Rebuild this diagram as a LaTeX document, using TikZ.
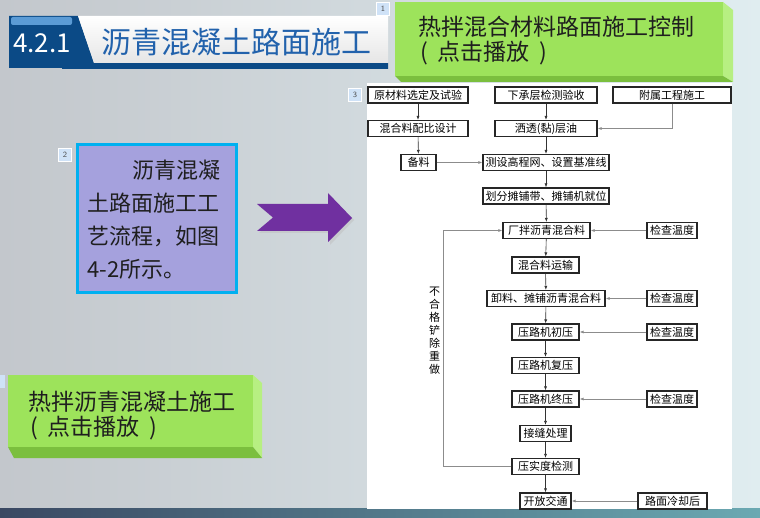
\documentclass[tikz,border=0pt]{standalone}
\usepackage{fontspec}
\newfontfamily\cjk{Noto Sans CJK SC}
\usetikzlibrary{arrows.meta}
\definecolor{bgl}{HTML}{C3C7CC}
\definecolor{bgr}{HTML}{E0EDF0}
\definecolor{hdblue}{HTML}{0B4A86}
\definecolor{hdlight}{HTML}{5B9BD5}
\definecolor{titleblue}{HTML}{2262AC}
\definecolor{gfront}{HTML}{9DE35B}
\definecolor{gbottom}{HTML}{7BBF3E}
\definecolor{gside}{HTML}{B7EF82}
\definecolor{pbox}{HTML}{A5A1DD}
\definecolor{cyanb}{HTML}{00B0F0}
\definecolor{parrow}{HTML}{7030A0}
\definecolor{tagblue}{HTML}{CFE2F7}
\definecolor{stripl}{HTML}{3A4862}
\definecolor{stripr}{HTML}{6BA9B2}
\begin{document}
\begin{tikzpicture}[x=1pt,y=-1pt,
  fb/.style={draw=black!85,line width=1.1pt,fill=white,inner sep=0pt,minimum height=16pt,font=\cjk\fontsize{11}{12}\selectfont},
  ar/.style={-{Latex[length=4pt,width=3pt]},line width=0.6pt,draw=black!80},
  gl/.style={-{Latex[length=4pt,width=3pt]},line width=0.9pt,draw=black!45},
  tag/.style={fill=tagblue,draw=white,line width=0.6pt,minimum size=13pt,inner sep=0pt,font=\sffamily\fontsize{8}{8}\selectfont,text=black!70},
  gtext/.style={font=\cjk\fontsize{23}{26}\selectfont,text=black!88,anchor=west,inner sep=0pt}]
\useasboundingbox (0,0) rectangle (760,518);
% background
\shade[left color=bgl,right color=bgr] (0,0) rectangle (760,518);
\shade[left color=stripl,right color=stripr] (0,508) rectangle (760,518);
% header
\fill[hdblue] (9,16) -- (78,16) -- (94,63) -- (388,63) -- (388,69) -- (62,69) -- (62,68) -- (9,68) -- cycle;
\shade[top color=white,bottom color=black!10] (78,16) -- (388,16) -- (388,63) -- (94,63) -- cycle;
\fill[hdlight,rounded corners=2pt] (11,17) rectangle (72,25);
\node[font=\cjk\fontsize{26}{28}\selectfont,text=white,inner sep=0pt] (num) at (42,43) {4.2.1};
\node[font=\cjk\fontsize{30}{32}\selectfont,text=titleblue,inner sep=0pt] (title) at (236,42) {沥青混凝土路面施工};
% tag 1
\node[tag] (tag1) at (383,9) {1};
% green box 1
\fill[gside] (723,2) -- (733,10) -- (733,82) -- (723,76) -- cycle;
\fill[gbottom] (395,76) -- (723,76) -- (733,82) -- (401,82) -- cycle;
\fill[gfront] (395,2) rectangle (723,76);
\node[gtext] (g1a) at (418,27) {热拌混合材料路面施工控制};
\node[gtext] (g1b) at (420,53) {(\hspace{10pt}点击播放\hspace{10pt})};
% green box 2
\fill[gside] (253,375) -- (262,383) -- (262,458) -- (253,447) -- cycle;
\fill[gbottom] (8,447) -- (253,447) -- (262,458) -- (14,458) -- cycle;
\fill[gfront] (8,375) rectangle (253,447);
\node[gtext] (g2a) at (28,402) {热拌沥青混凝土施工};
\node[gtext] (g2b) at (30,428) {(\hspace{10pt}点击播放\hspace{10pt})};
\fill[tagblue] (0,375) rectangle (5,388);
% purple box
\node[tag] (tag2) at (65,155) {2};
\draw[fill=pbox,draw=cyanb,line width=3pt] (77,145) rectangle (236,293);
\node[font=\cjk\fontsize{22}{33}\selectfont,text=black!88,anchor=north west,inner sep=0pt,align=left] (ptext) at (87,160) {\hspace*{45pt}沥青混凝\\土路面施工工\\艺流程，如图\\4-2所示。};
% purple arrow
\fill[black!25,opacity=0.5] (259,206) -- (330,206) -- (330,196) -- (354,220) -- (330,245) -- (330,233) -- (259,233) -- (275,219.5) -- cycle;
\fill[parrow] (257,204) -- (328,204) -- (328,193) -- (352,218) -- (328,242) -- (328,231) -- (257,231) -- (273,217.5) -- cycle;
% flowchart panel
\fill[white] (367,83) rectangle (732,509);
\node[tag] (tag3) at (355,95) {3};
% boxes
\node[fb,minimum width=100pt] (a1) at (418,95) {原材料选定及试验};
\node[fb,minimum width=102pt] (a2) at (546,95) {下承层检测验收};
\node[fb,minimum width=118pt] (a3) at (672,95) {附属工程施工};
\node[fb,minimum width=100pt] (b1) at (418,128.5) {混合料配比设计};
\node[fb,minimum width=102pt] (b2) at (546,128.5) {洒透(黏)层油};
\node[fb,minimum width=35pt] (c1) at (418.5,162.5) {备料};
\node[fb,minimum width=126pt] (c2) at (546,162.5) {测设高程网、设置基准线};
\node[fb,minimum width=126pt] (d) at (546,196) {划分摊铺带、摊铺机就位};
\node[fb,minimum width=87pt] (e) at (546.5,230.5) {厂拌沥青混合料};
\node[fb,minimum width=67pt] (f) at (545.5,265) {混合料运输};
\node[fb,minimum width=118pt] (g) at (546,298.5) {卸料、摊铺沥青混合料};
\node[fb,minimum width=67pt] (h) at (545.5,332) {压路机初压};
\node[fb,minimum width=67pt] (i) at (545.5,365.5) {压路机复压};
\node[fb,minimum width=67pt] (j) at (545.5,399) {压路机终压};
\node[fb,minimum width=51pt] (k) at (545.5,433.5) {接缝处理};
\node[fb,minimum width=67pt] (l) at (545.5,466.5) {压实度检测};
\node[fb,minimum width=51pt] (m) at (545.5,501) {开放交通};
\node[fb,minimum width=50pt] (t1) at (672,230.5) {检查温度};
\node[fb,minimum width=50pt] (t2) at (672,298.5) {检查温度};
\node[fb,minimum width=50pt] (t3) at (672,332) {检查温度};
\node[fb,minimum width=50pt] (t4) at (672,399) {检查温度};
\node[fb,minimum width=69pt] (n) at (672.5,501) {路面冷却后};
% connectors
\draw[ar] (a1) -- (b1);
\draw[ar] (b1) -- (c1);
\draw[ar] (a2) -- (b2);
\draw[ar] (b2) -- (c2);
\draw[gl] (a3.south) |- (b2.east);
\draw[gl] (c1) -- (c2);
\draw[ar] (c2) -- (d);
\draw[ar] (d) -- (e);
\draw[ar] (e) -- (f);
\draw[ar] (f) -- (g);
\draw[ar] (g) -- (h);
\draw[ar] (h) -- (i);
\draw[ar] (i) -- (j);
\draw[ar] (j) -- (k);
\draw[ar] (k) -- (l);
\draw[ar] (l) -- (m);
\draw[gl] (t1) -- (e);
\draw[gl] (t2) -- (g);
\draw[gl] (t3) -- (h);
\draw[gl] (t4) -- (j);
\draw[gl] (n) -- (m);
\coordinate (lp) at (443,230.5);
\draw[gl] (l.west) -| (lp) -- (e.west);
\node[font=\cjk\fontsize{11}{13}\selectfont,align=center,inner sep=0pt] (lbl) at (434.5,331) {不\\合\\格\\铲\\除\\重\\做};
\end{tikzpicture}
\end{document}
